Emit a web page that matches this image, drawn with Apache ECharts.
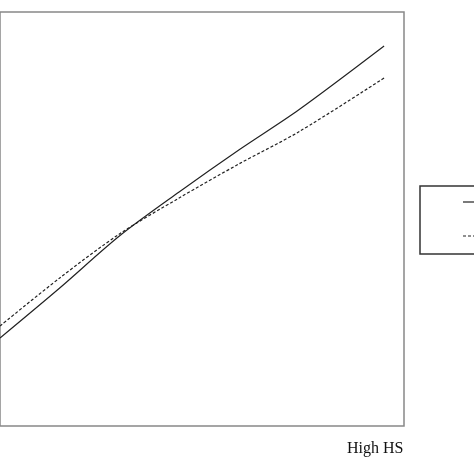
<!DOCTYPE html>
<html>
<head>
<meta charset="utf-8">
<script src="https://cdn.jsdelivr.net/npm/echarts@6/dist/echarts.min.js"></script>
<style>html,body{margin:0;padding:0;background:#fff}#main{width:474px;height:474px}</style>
</head>
<body>
<div id="main"></div>
<script>
// values (arbitrary units)
var xs = [0, 60, 120, 180, 240, 300, 386];
var solidVals = [88, 138, 190, 234, 276, 316, 380];
var dashedVals = [100, 148, 192, 228, 262, 294, 348];

function pairs(v) {
  return xs.map(function (x, i) { return [x, v[i]]; });
}

var chart = echarts.init(document.getElementById('main'));
chart.setOption({
  animation: false,
  grid: { left: -2, right: 70, top: 12, bottom: 48, show: true, borderColor: '#888', borderWidth: 1.5 },
  xAxis: { type: 'value', min: 0, max: 406, show: false },
  yAxis: { type: 'value', min: 0, max: 414, show: false },
  series: [
    { type: 'line', data: pairs(solidVals), smooth: 0.3, symbol: 'none',
      lineStyle: { color: '#222', width: 1.2 } },
    { type: 'line', data: pairs(dashedVals), smooth: 0.3, symbol: 'none',
      lineStyle: { color: '#222', width: 1.2, type: [3, 2] } }
  ],
  graphic: [
    { type: 'rect', shape: { x: 420, y: 186, width: 60, height: 68 },
      style: { fill: '#fff', stroke: '#333', lineWidth: 1.5 } },
    { type: 'line', shape: { x1: 463, y1: 202, x2: 476, y2: 202 },
      style: { stroke: '#222', lineWidth: 1.2 } },
    { type: 'line', shape: { x1: 463, y1: 236, x2: 476, y2: 236 },
      style: { stroke: '#222', lineWidth: 1.2, lineDash: [3, 2] } },
    { type: 'text', x: 347, y: 441,
      style: { text: 'High HS', fontFamily: 'Liberation Serif', fontSize: 16, fill: '#111' } }
  ]
});
</script>
</body>
</html>
